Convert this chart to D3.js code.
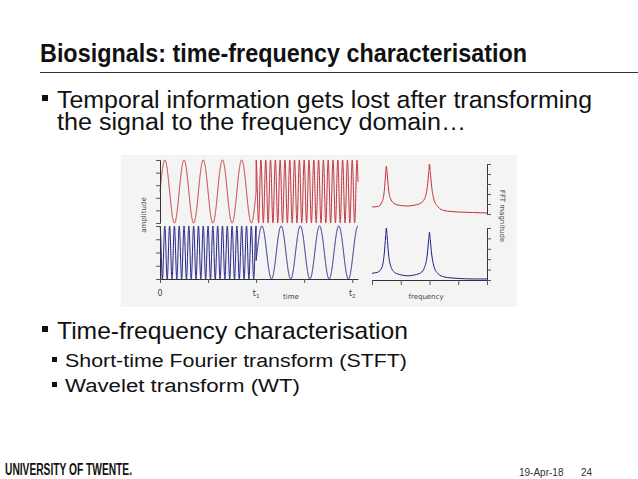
<!DOCTYPE html>
<html><head><meta charset="utf-8">
<script src="https://cdn.jsdelivr.net/npm/d3@7"></script>
<style>body{margin:0;background:#fff}svg{display:block}</style>
</head><body>
<svg id="c" width="638" height="479"></svg>
<script>
// ---- data ----
const timeTicks = [0, 0.25, 0.5, 0.75, 1.0];
const timeTickLabels = ["0", "", "t1", "", "t2"];
const segmentBounds = [0, 0.5, 1.03];          // 0, t1, end of axis
const redFreqs = [10, 40];                      // Hz in each segment (top signal)
const blueFreqs = [40, 10];                     // Hz in each segment (bottom signal)
const redPeakTime = 0.025;                      // first crest of the red signal
const bluePeakTime = 0.53;                      // first crest of the blue slow part
const freqTicks = [0, 20, 40, 60, 80];
const specFreq = [0, 4, 7, 8.5, 9.5, 10, 10.5, 11.5, 13, 16, 20, 25, 30, 34, 36.5, 38.5, 39.5, 40, 40.5, 41.5, 43, 46, 50, 55, 60, 70, 80];
const redSpectrum = [0.14, 0.15, 0.24, 0.45, 0.8, 0.96, 0.82, 0.5, 0.3, 0.2, 0.17, 0.16, 0.18, 0.22, 0.3, 0.55, 0.85, 1.0, 0.85, 0.55, 0.3, 0.14, 0.07, 0.05, 0.04, 0.03, 0.02];
const blueSpectrum = [0.13, 0.15, 0.25, 0.5, 0.85, 1.0, 0.85, 0.5, 0.27, 0.14, 0.1, 0.08, 0.1, 0.14, 0.24, 0.5, 0.8, 0.92, 0.78, 0.5, 0.27, 0.12, 0.06, 0.04, 0.03, 0.02, 0.02];
const magTicks = [0, 0.2, 0.4, 0.6, 0.8, 1.0];
const redAmpTicks = [-1, -0.6, -0.2, 0.2, 0.6, 1];
const blueAmpTicks = [-1, -0.5, 0, 0.5, 1];

const svg = d3.select("#c");
const RED = "#c4303a", BLUE = "#1f1f88", AX = "#555", LBL = "#444";

// ---- slide text ----
const body = "'Liberation Sans',Arial,sans-serif";
svg.append("text").attr("x", 40).attr("y", 62).attr("textLength", 487).attr("lengthAdjust", "spacingAndGlyphs")
  .attr("font-family", body).attr("font-weight", "bold")
  .attr("font-size", 25).attr("fill", "#111").text("Biosignals: time-frequency characterisation");
svg.append("line").attr("x1", 40).attr("x2", 638).attr("y1", 72.5).attr("y2", 72.5).attr("stroke", "#333").attr("stroke-width", 1);

function bullet(x, y, s){ svg.append("rect").attr("x", x).attr("y", y).attr("width", s).attr("height", s).attr("fill", "#111"); }
function line(x, y, size, len, t){
  svg.append("text").attr("x", x).attr("y", y).attr("font-family", body).attr("font-size", size)
   .attr("textLength", len).attr("lengthAdjust", "spacingAndGlyphs").attr("fill", "#111").text(t);
}
bullet(42, 95, 6);
line(57, 108, 23, 535, "Temporal information gets lost after transforming");
line(57, 130, 23, 409, "the signal to the frequency domain…");
bullet(42, 326, 6);
line(57, 339, 24, 351, "Time-frequency characterisation");
bullet(52, 357, 5);
line(65, 367, 18, 342, "Short-time Fourier transform (STFT)");
bullet(52, 382, 5);
line(65, 392, 18, 235, "Wavelet transform (WT)");

svg.append("text").attr("x", 5).attr("y", 475).attr("textLength", 127).attr("lengthAdjust", "spacingAndGlyphs")
  .attr("font-family", body).attr("font-weight", "bold")
  .attr("font-size", 16).attr("fill", "#111").text("UNIVERSITY OF TWENTE.");
svg.append("text").attr("x", 519).attr("y", 476).attr("font-family", body).attr("font-size", 10).attr("fill", "#333").text("19-Apr-18");
svg.append("text").attr("x", 581).attr("y", 476).attr("font-family", body).attr("font-size", 10).attr("fill", "#333").text("24");

// ---- figure background ----
svg.append("rect").attr("x", 121).attr("y", 155).attr("width", 396).attr("height", 152).attr("fill", "#f4f4f4");

// ---- time plots ----
const x = d3.scaleLinear().domain([0, 1.03]).range([160, 358]);
const yRed = d3.scaleLinear().domain([-1, 1]).range([223, 160]);
const yBlue = d3.scaleLinear().domain([-1, 1]).range([279, 226]);

function signal(freqs, peakT, slowIdx){
  const pts = [];
  const N = 3000;
  for (let i = 0; i <= N; i++){
    const t = segmentBounds[0] + (segmentBounds[2] - segmentBounds[0]) * i / N;
    const seg = t < segmentBounds[1] ? 0 : 1;
    const f = freqs[seg];
    const ph = seg === slowIdx ? peakT : segmentBounds[1];
    pts.push([t, Math.cos(2 * Math.PI * f * (t - ph))]);
  }
  return pts;
}
const redData = signal(redFreqs, redPeakTime, 0);
const blueData = signal(blueFreqs, bluePeakTime, 1);

svg.append("path").datum(redData).attr("fill", "none").attr("stroke", RED).attr("stroke-width", 1)
  .attr("d", d3.line().x(d => x(d[0])).y(d => yRed(d[1])));
svg.append("path").datum(blueData).attr("fill", "none").attr("stroke", BLUE).attr("stroke-width", 1)
  .attr("d", d3.line().x(d => x(d[0])).y(d => yBlue(d[1])));

function styleAxis(g){ g.selectAll("path,line").attr("stroke", AX); g.select(".domain").attr("stroke", "#333"); g.selectAll("text").remove(); }
svg.append("g").attr("transform", "translate(160,0)").call(d3.axisLeft(yRed).tickValues(redAmpTicks).tickSize(4).tickSizeOuter(4)).call(styleAxis);
svg.append("g").attr("transform", "translate(160,0)").call(d3.axisLeft(yBlue).tickValues(blueAmpTicks).tickSize(4).tickSizeOuter(4)).call(styleAxis);
svg.append("g").attr("transform", "translate(0,279)").call(d3.axisBottom(x).tickValues(timeTicks).tickSize(4).tickSizeOuter(0)).call(styleAxis);

const small = "'DejaVu Sans',sans-serif";
timeTicks.forEach((t, i) => {
  const lab = timeTickLabels[i];
  if (!lab) return;
  const tx = svg.append("text").attr("x", x(t)).attr("y", 296).attr("text-anchor", "middle")
    .attr("font-family", small).attr("font-size", 8).attr("fill", LBL);
  if (lab.length > 1){
    tx.append("tspan").text(lab[0]);
    tx.append("tspan").attr("font-size", 5.5).attr("dy", 2).text(lab.slice(1));
  } else tx.text(lab);
});
svg.append("text").attr("x", 291).attr("y", 299).attr("text-anchor", "middle").attr("font-family", small)
  .attr("font-size", 7).attr("fill", LBL).text("time");
svg.append("text").attr("transform", "translate(146,215) rotate(-90)").attr("text-anchor", "middle")
  .attr("font-family", small).attr("font-size", 7).attr("fill", LBL).text("amplitude");

// ---- spectra ----
const fx = d3.scaleLinear().domain([0, 80]).range([372, 487]);
const yRS = d3.scaleLinear().domain([0, 1]).range([214, 164]);
const yBS = d3.scaleLinear().domain([0, 1]).range([280, 228]);
const redSpec = specFreq.map((f, i) => [f, redSpectrum[i]]);
const blueSpec = specFreq.map((f, i) => [f, blueSpectrum[i]]);
svg.append("path").datum(redSpec).attr("fill", "none").attr("stroke", RED).attr("stroke-width", 1)
  .attr("d", d3.line().x(d => fx(d[0])).y(d => yRS(d[1])).curve(d3.curveMonotoneX));
svg.append("path").datum(blueSpec).attr("fill", "none").attr("stroke", BLUE).attr("stroke-width", 1)
  .attr("d", d3.line().x(d => fx(d[0])).y(d => yBS(d[1])).curve(d3.curveMonotoneX));

svg.append("g").attr("transform", "translate(487,0)").call(d3.axisRight(yRS).tickValues(magTicks).tickSize(4).tickSizeOuter(0)).call(styleAxis);
svg.append("g").attr("transform", "translate(487,0)").call(d3.axisRight(yBS).tickValues(magTicks).tickSize(4).tickSizeOuter(0)).call(styleAxis);
svg.append("g").attr("transform", "translate(0,280)").call(d3.axisBottom(fx).tickValues(freqTicks).tickSize(5).tickSizeOuter(0)).call(styleAxis);

svg.append("text").attr("x", 426).attr("y", 299).attr("text-anchor", "middle").attr("font-family", small)
  .attr("font-size", 7).attr("fill", LBL).text("frequency");
svg.append("text").attr("transform", "translate(500,216) rotate(90)").attr("text-anchor", "middle")
  .attr("font-family", small).attr("font-size", 7).attr("fill", LBL).text("FFT magnitude");
</script>
</body></html>
